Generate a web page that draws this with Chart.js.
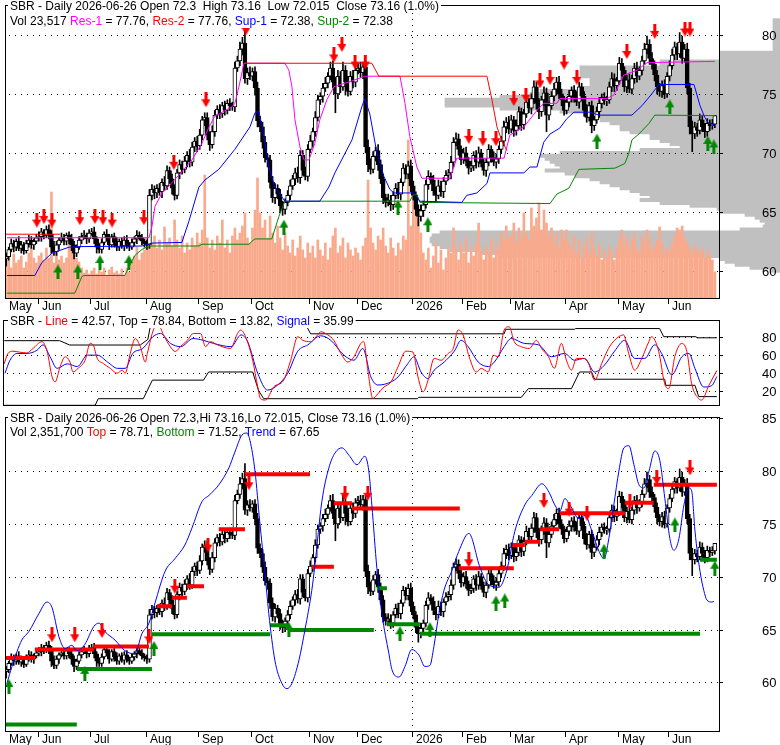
<!DOCTYPE html>
<html>
<head>
<meta charset="utf-8">
<script src="https://cdn.jsdelivr.net/npm/chart.js@4.4.1/dist/chart.umd.min.js"></script>
<style>
html,body{margin:0;padding:0;background:#fff;}
#wrap{position:relative;width:780px;height:745px;overflow:hidden;background:#fff;}
#wrap canvas{position:absolute;left:0;}
</style>
</head>
<body>
<div id="wrap">
<canvas id="cProf" width="780" height="316" style="top:0px"></canvas>
<canvas id="cTop" width="780" height="316" style="top:0px"></canvas>
<canvas id="cMid" width="780" height="96" style="top:312px"></canvas>
<canvas id="cBot" width="780" height="337" style="top:408px"></canvas>
</div>
<script>
// ---------------- DATA ----------------
// trading-day index 0 = 2025-05-13 ... 282 = 2026-06-26
const monthLabels = ['May','Jun','Jul','Aug','Sep','Oct','Nov','Dec','2026','Feb','Mar','Apr','May','Jun'];
const monthStart  = [0,13,34,56,77,98,121,140,162,182,201,223,244,264];
const yearIdx = 162;

const firstOpen = 61.0;
const closes = [
61.2,61.8,62.3,62.0,62.5,61.9,62.2,61.7,62.3,62.6,
62.2,62.5,62.8,62.9,63.3,63.0,63.5,63.1,62.0,61.6,
62.2,62.6,62.8,62.5,63.0,62.7,62.2,61.5,62.0,62.6,
62.9,63.0,62.7,63.2,63.3,62.7,62.0,61.8,62.4,63.1,
62.8,62.2,62.9,62.4,62.0,62.5,62.1,62.6,62.2,62.0,
62.4,62.7,63.0,62.8,62.5,62.3,62.2,66.4,66.9,66.6,
67.0,66.7,67.5,67.2,68.5,67.8,67.0,66.4,68.3,69.0,
68.6,69.3,69.8,69.2,70.5,71.0,70.6,71.5,72.8,73.0,
71.5,70.7,71.8,73.2,73.7,73.3,74.0,73.6,74.2,74.0,
73.9,77.2,77.8,78.8,79.3,76.3,76.8,76.5,76.9,75.5,
72.7,72.2,70.9,69.6,69.4,67.5,66.2,67.0,66.5,65.5,
65.2,65.8,66.4,67.2,67.8,68.3,67.9,69.8,68.5,68.0,
70.3,71.0,71.8,73.0,74.5,74.8,75.5,75.9,76.5,77.2,
76.0,75.0,76.5,75.6,77.0,76.0,75.2,76.5,76.0,77.0,
77.2,76.8,77.3,70.5,69.0,68.6,69.7,70.2,69.0,67.8,
66.2,65.8,66.0,65.6,66.4,67.0,66.5,67.5,68.7,68.2,
68.9,67.2,66.4,65.2,64.6,65.1,65.6,67.3,68.0,67.7,
66.8,66.4,67.2,66.7,67.6,68.1,68.3,69.2,70.9,71.2,
70.3,69.4,70.0,69.3,68.7,68.9,69.8,69.2,70.0,69.1,
68.5,69.2,70.3,69.6,69.2,69.5,70.3,71.0,72.2,72.6,
72.0,72.8,71.9,72.3,73.5,72.4,73.3,74.3,73.8,74.6,
75.6,74.2,73.5,74.5,75.1,73.2,74.0,74.8,75.4,76.0,
75.0,74.5,73.6,74.3,74.8,75.3,74.7,74.3,75.6,74.8,
73.6,73.0,74.0,72.3,72.8,73.5,74.2,74.7,74.4,74.5,
75.6,76.3,75.7,76.1,77.6,77.0,75.6,76.2,75.4,76.3,
77.2,76.5,77.0,77.8,78.8,79.2,78.0,77.5,76.6,75.6,
75.2,75.7,75.0,76.5,77.4,78.3,79.0,78.4,79.4,78.0,
78.8,75.5,72.2,71.6,72.2,71.9,72.8,72.2,71.8,72.5,
72.3,72.44,73.16];
// wick lengths in tenths of a dollar above body top / below body bottom
const wickUp = [
3,2,4,3,2,4,3,2,3,4, 3,2,3,4,3,2,3,4,3,5, 3,2,4,3,2,3,4,3,2,3, 3,4,2,3,3,4,2,3,3,2,
4,3,2,3,4,2,3,3,4,2, 3,2,4,3,3,2,3,5,4,3, 3,4,3,5,4,3,4,3,3,4, 3,4,3,5,4,3,4,5,3,4,
4,3,5,4,3,4,3,4,3,4, 3,5,4,6,5,14,4,5,3,4, 5,4,4,5,3,4,5,4,3,4, 4,3,4,5,3,4,5,4,4,3,
4,5,3,5,4,3,4,5,3,5, 6,4,5,4,7,4,5,4,5,4, 4,5,4,4,6,5,4,3,5,4, 4,3,5,4,3,4,5,3,4,3,
4,5,4,3,4,5,3,4,5,3, 4,3,5,4,3,4,3,5,4,5, 4,3,4,5,3,4,3,4,5,3, 4,3,4,3,5,4,3,4,5,4,
5,4,3,5,4,3,4,5,3,4, 5,4,4,3,5,4,3,4,5,4, 5,4,3,4,5,3,4,5,4,3, 4,5,3,4,3,4,5,3,4,3,
4,5,4,3,5,4,3,4,5,3, 4,5,3,4,5,7,4,5,3,4, 3,4,5,3,4,5,4,3,8,5, 4,5,4,5,4,3,5,4,3,4,
3,4,0];
const wickDn = [
6,3,2,4,3,2,4,3,2,3, 3,4,2,3,4,3,2,4,5,3, 3,4,2,3,3,4,5,5,3,2, 3,2,4,3,2,4,5,3,3,2,
3,4,2,4,3,3,2,4,3,3, 2,3,4,2,3,3,4,3,4,5, 4,3,5,4,3,4,5,4,3,5, 4,3,5,4,3,4,5,3,4,5,
4,5,3,4,3,4,3,4,3,4, 3,4,3,4,5,4,5,3,4,6, 5,4,5,4,6,5,4,5,4,5, 5,4,3,4,3,5,4,5,4,3,
4,3,5,4,3,4,5,3,4,3, 5,16,4,5,3,11,4,3,5,4, 3,4,5,5,6,4,3,4,5,4, 5,4,3,5,4,3,4,5,3,4,
4,5,4,5,8,4,5,3,4,3, 4,5,3,4,5,3,4,5,4,3, 5,4,3,4,5,3,4,5,4,3, 4,5,3,4,3,5,4,3,4,5,
4,3,5,4,3,5,4,3,4,5, 4,5,6,4,5,14,4,3,4,5, 4,5,4,3,4,5,4,3,5,4, 5,4,3,6,4,3,5,4,3,4,
3,4,5,4,3,5,4,5,3,4, 4,5,3,4,3,4,5,4,5,6, 4,5,4,3,4,3,4,5,3,4, 3,5,6,15,4,5,3,4,5,4,
4,3,3];
// volume, thousands of shares
const volumes = [
3600,3420,2700,3960,3150,3420,3780,2700,3240,4050,
4500,3600,3150,3780,4050,3420,4500,3600,9540,3150,
4050,3420,3780,3150,3600,4860,4500,4230,3600,3240,
2700,2250,2520,2160,2430,2700,2160,2520,2340,2700,
1980,2520,2790,2250,2430,2160,2610,2070,2700,2340,
3150,3780,4590,3420,4050,4320,5400,6750,4950,5580,
4500,5220,4320,6390,4950,5400,4680,7020,5220,4500,
5580,4050,4950,4320,5400,4680,5850,4950,6120,11070,
5400,4500,5220,4320,5580,4950,7020,4500,5220,4050,
5580,6300,5220,5850,6480,7650,5400,4950,6300,7920,
10800,7650,6300,7020,5400,7380,5850,4950,6480,5400,
4320,5850,4680,4050,5220,3780,4500,5580,4320,3600,
4950,4050,4680,3600,5220,4320,3780,4950,3420,4500,
5580,6300,4050,4680,5400,3600,4950,4320,3780,4500,
4050,3420,4680,5400,10620,6300,4950,4320,5580,5220,
6300,4680,4050,5400,4500,3780,4950,4320,5580,5220,
14220,6480,9450,8100,7200,5850,4050,3420,4500,2700,
3780,4950,3150,4320,2520,3600,4680,4050,6300,4500,
3420,4950,4050,5400,3150,4500,3780,4950,6750,4320,
3420,4680,4050,5400,3600,4950,4320,5850,5220,6480,
5400,5580,6750,4950,6300,5400,7650,5850,5220,8100,
6480,7200,8550,6120,7920,6750,5580,6300,4950,5850,
4500,6120,5220,6120,4950,4320,5580,4050,5220,3600,
4680,5400,4050,5850,4500,3780,4950,3420,4320,3600,
4680,4050,3420,4500,5400,6120,4950,5580,4320,5220,
5850,4500,4050,5580,4950,6120,5400,4320,4680,5220,
6390,4950,4050,4500,4320,4950,5580,6300,6120,6480,
5400,4950,4500,4050,4680,4320,4050,4500,3600,4320,
3780,3420,2352];

// volume-at-price profile (price bins, relative volume)
const profPrice = [60.00,60.25,60.50,60.75,61.00,61.25,61.50,61.75,62.00,62.25,62.50,62.75,63.00,63.25,63.50,63.75,
64.00,64.25,64.50,64.75,65.00,65.25,65.50,65.75,66.00,66.25,66.50,66.75,67.00,67.25,67.50,67.75,
68.00,68.25,68.50,68.75,69.00,69.25,69.50,69.75,70.00,70.25,70.50,70.75,71.00,71.25,71.50,71.75,
72.00,72.25,72.50,72.75,73.00,73.25,73.50,73.75,74.00,74.25,74.50,74.75,75.00,75.25,75.50,75.75,
76.00,76.25,76.50,76.75,77.00,77.25,77.50,77.75,78.00,78.25,78.50,78.75,79.00,79.25,79.50,79.75,
80.00,80.25,80.50,80.75,81.00,81.25];
const profVol = [10,30,45,55,60,280,300,330,340,348,350,350,348,340,40,17,
15,20,25,35,60,63,90,120,140,130,140,150,160,170,180,190,
205,215,235,220,225,230,235,240,220,140,100,110,120,130,130,150,
160,160,170,180,180,180,220,280,335,335,335,280,250,240,200,190,
190,190,200,200,200,200,120,120,60,60,60,7,7,7,7,7,
7,7,7,7,7,7];

// top panel overlay lines [day index, price]
const res1 = [[0.3,62.8],[56.8,62.8],[58.0,63.75],[59.2,65.45],[62,66.6],[64.8,67.2],[69.9,68.4],[73.9,69.4],[77.9,70.8],[80.7,72.2],[83,73.1],[89.8,73.9],[91,74.2],[92.6,75.6],[94.6,77.6],[110.9,77.6],[112.5,77.0],[113.7,75.6],[114.9,72.8],[116.9,70.5],[118.5,69.4],[120.5,69.4],[122.8,70.8],[124.8,72.8],[127.6,74.5],[130.4,75.6],[137.6,76.1],[142.7,76.5],[156.7,76.5],[158.7,74.2],[160.6,71.4],[163.4,68.8],[165.4,67.85],[176.6,67.85],[179.3,69.55],[198.1,69.55],[200.4,71.5],[206,72.2],[211.2,73.6],[213.9,74.2],[219.1,74.2],[220.3,74.6],[239,74.6],[241.8,74.9],[245.8,76.6],[251,77.0],[255,77.65],[282,77.76]];
const res2 = [[-0.5,63.1],[21.4,63.1],null,[94.6,77.6],[145.5,77.6],[148.3,76.5],[191.3,76.5],[193.3,74.5],[195.3,72.2],[197.3,71.0],[199.2,70.2]];
const sup1 = [[0.3,59.6],[11.4,59.6],[14.2,60.7],[18.2,61.5],[25,62.0],[30.1,62.05],[54,62.1],[58,62.35],[69.9,62.4],[72.7,64.2],[76.7,67.1],[79.1,67.7],[84.6,68.6],[91,70.3],[97,72.2],[99,73.4],[100.6,73.5],[102.5,71.4],[104.5,68.8],[106.9,67.1],[110.9,65.9],[124.8,65.9],[128.4,67.1],[130.8,68.3],[137.6,71.1],[141.5,73.9],[142.7,74.6],[144.7,73.3],[147.5,70.0],[150.3,68.0],[152.7,66.9],[154.3,66.6],[162.2,66.6],[164.6,65.9],[181.3,65.8],[183.3,66.4],[187.3,66.6],[191.3,67.4],[192.5,68.3],[206,68.3],[208.4,68.8],[211.2,68.8],[213.9,70.9],[216.4,71.6],[220.3,72.1],[223.1,72.9],[225.9,73.45],[232.3,73.45],[235.9,73.2],[249,73.2],[253,74.0],[256.9,75.0],[259.7,75.8],[273.7,75.8],[276.1,74.0],[278,73.0],[279.6,72.5],[282,72.38]];
const sup2 = [[0.3,58.1],[27.3,58.1],[30.1,59.5],[30.9,59.6],[47.2,59.6],[48.8,60.3],[51.2,61.3],[54,61.8],[56.8,62.1],[76.7,62.1],[77.9,62.25],[96.6,62.25],[97.8,62.5],[99,62.7],[105.7,62.7],[108.5,64.6],[110.9,65.9],[160.6,65.9],[161.8,66.4],[163.4,66.5],[164.6,65.8],[216.4,65.7],[219.1,66.5],[223.9,67.0],[227.9,68.6],[242.2,68.7],[246.2,69.1],[247.8,70.0],[249,71.1],[251.8,71.6],[255.8,72.5],[258.1,73.2],[282,73.16]];
const topSell = [[12.2,64.3],[15.0,64.6],[18.2,64.3],[29.3,64.5],[35.3,64.6],[38.5,64.5],[42.1,64.3],[54.8,64.5],[66.7,69.2],[79.5,74.5],[95.4,80.6],[130.4,78.3],[133.6,79.2],[138.8,77.7],[142.9,77.7],[184.1,71.4],[189.7,71.2],[194.9,71.2],[202,74.6],[206.8,74.9],[212.4,76.1],[216.4,76.4],[222,77.7],[227.1,76.4],[247,78.6],[258.1,80.3],[270.1,80.5],[272.1,80.5]];
const topBuy = [[20.6,59.9],[28.5,59.9],[37.3,60.7],[48.8,60.7],[110.5,63.7],[155.9,65.4],[167.8,63.9],[235.1,71.0],[264.1,73.9],[279.2,70.8],[281.6,70.5]];

// middle panel oscillator [day index, value]
const oscLine = [[0,50],[1.5,61.5],[3.5,64],[6,63],[9,62],[11.4,67],[15,74.5],[17,64],[19,35.6],[20.2,30],[22.2,47],[24.2,57.8],[26.1,52],[27.3,41],[29.3,45],[32.1,54],[34.1,72.6],[35.3,71],[36.9,56],[39.3,50.4],[42.1,45],[44.8,39.6],[46.8,43],[48,39.6],[50,61.5],[52,78],[54,69],[56,52],[56.8,61.5],[59.2,87.4],[61.2,93],[63.2,82],[65.9,69],[67.9,63.6],[69.9,69],[72.7,76],[75.1,83.6],[77.9,83.6],[79.9,69],[81.9,74.5],[84.6,71],[89.8,67],[92.6,83.6],[93.8,87.4],[95.8,80],[98.6,54],[100.6,24.4],[101.7,11.5],[103.7,10],[106.9,24.4],[110.9,32],[113.7,54],[116.5,80],[118.5,76],[121.6,74.5],[124.4,82],[125.6,85.5],[128.4,82],[130.8,76],[133.6,61.5],[136.4,52],[138.8,57.8],[141.5,72.6],[142.7,74.5],[144.3,43],[146.3,11.7],[148.3,17],[150.7,24.4],[153.5,30],[156.3,47],[159.4,64],[162.2,63],[164.2,35.6],[166.2,19],[168.2,32],[170.6,56],[173.4,54],[176.2,61.5],[178.2,67],[180.1,87.4],[182.1,82],[184.5,57.8],[187.3,41],[189.3,45],[192.1,41],[194.1,59.6],[196.1,57.8],[198.4,87.4],[200.4,91],[202.4,74.5],[205.2,69],[208.4,67],[211.2,76],[213.2,67],[216,57.8],[218.3,45],[221.1,72.6],[223.1,54],[225.1,43],[227.1,56],[229.9,56],[231.9,50.4],[234.3,32],[237.1,50.4],[239.8,67],[242.2,76],[245.8,82],[247.8,61.5],[250.2,43],[253,56],[255.8,74.5],[256.9,80],[259.7,64],[262.1,28],[263.7,22.6],[266.1,57.8],[268.9,72.6],[270.9,63.6],[272.8,28],[275.6,11.5],[276.8,10],[279.6,26],[282.8,42.6]];
const oscSignal = [[0.3,39.6],[2.3,54],[5.1,61.5],[9,61.5],[13,65],[15.4,71],[18.2,57.8],[21,45],[25,50],[29,47],[33,59.6],[37,59.6],[41,52],[45,45],[48,45],[51,61.5],[55,67],[59,80],[62,83.6],[66,72.6],[70,69],[75,78],[79,76],[83,72.6],[90,69],[94,82],[96.6,74.5],[100.6,39.6],[104.5,21],[108.5,26.6],[112.5,39.6],[116.5,64],[120.5,71],[125.6,81],[129.6,76],[134.8,59.6],[138.8,54],[142.3,67],[145.5,35.6],[148.3,26.6],[153.5,30],[156.3,35.6],[160.2,50.4],[162.6,57.8],[165.4,41],[168.2,33.7],[170.6,43],[174.6,52],[178.6,64],[181.3,76],[184.1,69],[188.1,52],[192.1,47],[194.5,52],[198.4,69],[201.2,78],[206.4,72.6],[212,71],[217.2,57.8],[222.3,61.5],[226.3,54],[230.3,56],[234.3,41],[238.2,48.6],[242.2,64],[246.2,76],[250.2,56],[254.2,56],[258.1,71],[260.9,61.5],[264.9,37.8],[268.9,57.8],[271.7,61.5],[274.1,45],[277.6,24.4],[280.8,26],[282.8,36]];
const oscTop = [[0,75.6],[22,75.6],[26,70.8],[54,70.8],[57,77],[58.5,99],[60,104],[118,104],[119.7,93],[121.6,83.2],[198.4,83.2],[199,88.2],[226.3,88.2],[226.8,89],[260.1,89],[261.7,80],[274.5,80],[275,78.8],[282.8,78.8]];
const oscBottom = [[0,4.2],[36.1,4.2],[37.3,11.5],[55.2,11.5],[58.8,32],[79.1,32],[81.1,41],[98.6,41],[101,20],[103,11.5],[164,11.5],[164.5,13],[205.2,13],[208,22.6],[225.1,22.6],[228.3,41],[233.1,41],[234.3,33],[262.1,33],[262.5,26.3],[274.1,26.3],[275.6,13.8],[282.8,13.8]];

// bottom panel [day index, price]
const trend = [[0.3,59.9],[2.3,61.5],[6.2,64.0],[9.0,64.8],[13.0,66.5],[16.2,67.6],[18.2,67.1],[21.0,64.3],[23.4,63.2],[26.1,63.5],[28.1,63.0],[31.3,63.6],[34.9,65.3],[36.9,65.6],[39.3,64.8],[43.3,64.0],[47.2,63.0],[51.2,62.7],[54.0,64.6],[56.8,65.6],[59.2,67.5],[63.2,70.5],[67.1,71.7],[71.1,73.0],[73.9,74.6],[77.9,77.1],[80.7,77.7],[84.6,78.7],[88.6,80.3],[91.0,81.8],[93.8,83.4],[95.8,83.6],[97.0,82.9],[99.0,80.0],[100.9,75.2],[102.9,70.5],[104.5,66.5],[106.9,62.1],[109.7,59.9],[111.7,59.4],[113.7,59.9],[116.5,62.1],[118.9,65.0],[121.6,68.7],[122.8,71.0],[125.6,77.1],[128.4,80.3],[130.8,81.7],[133.6,82.2],[136.4,81.5],[139.6,80.6],[142.7,81.4],[144.3,80.0],[145.5,76.8],[147.5,70.8],[149.5,66.5],[152.3,62.7],[153.5,61.2],[156.3,60.5],[158.7,61.5],[161.4,63.1],[164.2,62.6],[166.6,61.5],[168.6,61.6],[170.2,63.4],[172.2,66.5],[174.2,68.7],[177.4,70.6],[180.1,72.4],[184.1,74.1],[188.5,70.9],[192.1,69.2],[196.1,69.0],[199.2,70.6],[202.4,74.3],[206.4,76.8],[209.2,77.7],[213.2,78.8],[216.0,78.0],[218.3,76.8],[220.3,76.2],[222.3,77.4],[224.3,76.8],[227.9,75.5],[230.3,75.8],[233.1,74.3],[235.9,72.4],[237.9,71.7],[239.8,73.6],[241.8,76.8],[243.8,80.0],[245.8,82.2],[247.8,82.4],[249.8,80.6],[251.8,78.7],[253.8,78.4],[255.8,80.0],[258.1,81.9],[260.1,81.0],[262.1,77.4],[264.1,73.6],[265.7,72.5],[267.7,73.6],[269.7,76.8],[271.7,78.4],[272.8,78.1],[274.1,74.3],[276.1,70.5],[277.6,68.7],[278.8,67.8],[280.8,67.6],[281.6,67.65]];
const topLevels = [[-0.5,62.3],[11.4,62.3],null,[11.4,63.1],[34.9,63.1],null,[34.9,63.4],[56.8,63.4],null,[60,67.2],[66,67.2],null,[66,68.0],[71.9,68.0],null,[71.9,69.1],[78.7,69.1],null,[84.6,74.5],[95,74.5],null,[95,79.7],[120.9,79.7],null,[121.6,70.95],[130.4,70.95],null,[130.4,76.95],[137.6,76.95],null,[137.6,76.45],[180.5,76.45],null,[180.1,70.8],[202,70.8],null,[201.2,73.0],[206.4,73.0],null,[206.4,73.3],[212.4,73.3],null,[212.4,74.5],[220,74.5],null,[220.3,76.0],[246.2,76.0],null,[246.2,77.0],[257.7,77.0],null,[257.7,78.7],[282.8,78.7]];
const bottomLevels = [[-0.5,56.0],[28.1,56.0],null,[28.1,61.25],[58,61.25],null,[58,64.55],[105,64.55],null,[105,65.4],[112.5,65.4],null,[112.5,64.95],[146.3,64.95],null,[147.5,68.9],[151.5,68.9],null,[151.5,65.5],[164.6,65.5],null,[164.6,64.6],[276.1,64.6],null,[276.1,71.6],[282.8,71.6]];
const botSell = [[18.2,64.5],[27.3,64.5],[38.1,64.9],[56.8,64.3],[67.1,69.1],[80.3,73.0],[96.6,78.9],[134.8,77.9],[143.9,77.9],[184.1,71.6],[214,77.2],[224,76.4],[231.1,76.0],[248.2,77.1],[258.9,79.4],[272.1,80.3]];
const botBuy = [[1.1,59.6],[31.3,60.85],[58.8,63.2],[112.5,65.0],[156.7,64.6],[168.6,65.0],[194.9,67.5],[198.4,67.7],[237.9,72.4],[266.1,74.9],[282,70.8]];

const topTicks = [80,75,70,65,60];
const midTicks = [80,60,40,20];
const botTicks = [85,80,75,70,65,60];

// ---------------- RENDER ----------------
const FONT = '"Liberation Sans", Arial, Helvetica, sans-serif';
Chart.defaults.font.family = FONT;
const X_MIN = -0.48, X_MAX = 283.65;
const RED = '#ff0000', GREEN = '#008800', BLUE = '#0000ff', MAG = '#ff00ff';

const opens = closes.map((c,i)=> i===0 ? firstOpen : closes[i-1]);
const highs = closes.map((c,i)=> Math.max(opens[i],c) + wickUp[i]/10);
const lows  = closes.map((c,i)=> Math.min(opens[i],c) - wickDn[i]/10);

function pts(arr){
  const out=[]; let lx=0;
  arr.forEach(p=>{ if(p===null){out.push({x:lx,y:null});} else {out.push({x:p[0],y:p[1]}); lx=p[0];} });
  return out;
}
function arrow(color, up){
  const c=document.createElement('canvas'); c.width=9; c.height=15;
  const g=c.getContext('2d'); g.fillStyle=color;
  if(up){ g.fillRect(3,7,3,8); g.beginPath(); g.moveTo(0,8); g.lineTo(9,8); g.lineTo(4.5,0); g.closePath(); g.fill(); }
  else { g.fillRect(3,0,3,8); g.beginPath(); g.moveTo(0,7); g.lineTo(9,7); g.lineTo(4.5,15); g.closePath(); g.fill(); }
  return c;
}
const ARROW_DN = arrow(RED,false), ARROW_UP = arrow(GREEN,true);

function candleSets(order){
  return [
    {type:'bar', data: closes.map((c,i)=>({x:i,y:[opens[i],c]})),
     backgroundColor: closes.map((c,i)=> c>=opens[i] ? '#ffffff' : '#000000'),
     borderColor:'#000000', borderWidth:1, borderSkipped:false, barThickness:4, grouped:false, order:order},
    {type:'bar', data: closes.map((c,i)=>({x:i,y:[lows[i],highs[i]]})),
     backgroundColor:'#000000', borderWidth:0, barThickness:1, grouped:false, order:order+1}
  ];
}
function lineSet(arr, color, width, order, smooth){
  return {type:'line', data: pts(arr), borderColor:color, borderWidth:width, pointRadius:0,
          tension: smooth?0.35:0, cubicInterpolationMode: smooth?'monotone':'default', spanGaps:false, order:order};
}
function arrowSet(arr, img){
  return {type:'line', data: arr.map(p=>({x:p[0],y:p[1]})), showLine:false, pointStyle: img, pointRadius:4, order:0};
}

function drawRich(ctx, x, y, segs, bg){
  ctx.font = '12px ' + FONT;
  ctx.textAlign='left'; ctx.textBaseline='alphabetic';
  let w=0; segs.forEach(s=> w += ctx.measureText(s[0]).width);
  if(bg){ ctx.fillStyle='#ffffff'; ctx.fillRect(x-2, y-11, w+4, 14); }
  let cx=x; segs.forEach(s=>{ ctx.fillStyle=s[1]; ctx.fillText(s[0], cx, y); cx += ctx.measureText(s[0]).width; });
}

function deco(cfg){
  return {
    id:'deco',
    beforeDatasetsDraw(chart){
      const ctx=chart.ctx, a=chart.chartArea, ys=chart.scales.y, xs=chart.scales.x;
      ctx.save(); ctx.strokeStyle='#000'; ctx.lineWidth=1; ctx.setLineDash([1,5]);
      cfg.ticks.forEach(v=>{ const py=Math.round(ys.getPixelForValue(v))+0.5;
        ctx.beginPath(); ctx.moveTo(a.left+4,py); ctx.lineTo(a.right,py); ctx.stroke(); });
      if(cfg.yearLine){ const px=Math.round(xs.getPixelForValue(yearIdx-0.5))+0.5;
        ctx.beginPath(); ctx.moveTo(px,a.top+2); ctx.lineTo(px,a.bottom); ctx.stroke(); }
      ctx.restore();
    },
    afterDraw(chart){
      const ctx=chart.ctx, a=chart.chartArea, ys=chart.scales.y, xs=chart.scales.x;
      ctx.save();
      ctx.strokeStyle='#000'; ctx.lineWidth=1; ctx.setLineDash([]);
      ctx.strokeRect(a.left+0.5, a.top+0.5, a.right-a.left, a.bottom-a.top);
      ctx.font='13px '+FONT; ctx.fillStyle='#000'; ctx.textAlign='left'; ctx.textBaseline='middle';
      cfg.ticks.forEach(v=>{ const py=Math.round(ys.getPixelForValue(v))+0.5;
        ctx.beginPath(); ctx.moveTo(a.right,py); ctx.lineTo(a.right+4,py); ctx.stroke();
        ctx.fillText(String(v), 762, py+1); });
      if(cfg.months){
        ctx.font='12px '+FONT; ctx.textBaseline='alphabetic';
        monthLabels.forEach((m,k)=>{
          const px=Math.round(xs.getPixelForValue(monthStart[k]-0.5))+0.5;
          if(k>0){ ctx.beginPath(); ctx.moveTo(px,a.bottom); ctx.lineTo(px,a.bottom+6); ctx.stroke(); }
          ctx.fillText(m, k>0 ? px+3.5 : 9, a.bottom+12);
        });
      }
      cfg.titles.forEach(t=> drawRich(ctx, t.x, t.y, t.segs, t.bg));
      ctx.restore();
    }
  };
}

const baseOpts = (pad, yMin, yMax, extraScales) => Object.assign({
  responsive:false, maintainAspectRatio:false, animation:false, devicePixelRatio:1, events:[],
  layout:{padding:pad},
  plugins:{legend:{display:false}, tooltip:{enabled:false}, title:{display:false}},
  scales: Object.assign({
    x:{type:'linear', min:X_MIN, max:X_MAX, display:false, offset:false, grid:{offset:false}},
    y:{type:'linear', min:yMin, max:yMax, display:false}
  }, extraScales||{})
});

// volume-at-price profile (behind the top panel)
new Chart(document.getElementById('cProf'), {
  type:'bar',
  data:{datasets:[{data: profPrice.map((p,k)=>({x:profVol[k], y:p})), backgroundColor:'rgb(192,192,192)',
        borderWidth:0, barThickness:3.2, grouped:false}]},
  options:{
    indexAxis:'y', responsive:false, maintainAspectRatio:false, animation:false, devicePixelRatio:1, events:[],
    layout:{padding:{left:0,right:0,top:5,bottom:18}},
    plugins:{legend:{display:false}, tooltip:{enabled:false}},
    scales:{
      x:{type:'linear', min:0, max:780, reverse:true, display:false, offset:false},
      y:{type:'linear', min:57.69, max:82.54, display:false, offset:false}
    }
  }
});

// top panel
new Chart(document.getElementById('cTop'), {
  type:'bar',
  data:{datasets:[
    arrowSet(topSell, ARROW_DN), arrowSet(topBuy, ARROW_UP),
    lineSet(res2, RED, 1, 1), lineSet(res1, MAG, 1, 2), lineSet(sup1, BLUE, 1, 2), lineSet(sup2, GREEN, 1, 2),
    ...candleSets(4),
    {type:'bar', yAxisID:'yv', data: volumes.map((v,i)=>({x:i,y:v})), backgroundColor:'rgb(250,170,140)',
     borderWidth:0, barThickness:2, grouped:false, order:8}
  ]},
  options: baseOpts({left:3,right:61,top:5,bottom:18}, 57.69, 82.54,
    {yv:{type:'linear', min:0, max:26370, display:false}}),
  plugins:[deco({ticks:topTicks, months:true, yearLine:true, titles:[
    {x:10, y:10, bg:true, segs:[['SBR - Daily 2026-06-26 Open 72.3  High 73.16  Low 72.015  Close 73.16 (1.0%)','#000']]},
    {x:10, y:25, bg:true, segs:[['Vol 23,517 ','#000'],['Res-1',MAG],[' = 77.76, ','#000'],['Res-2',RED],[' = 77.76, ','#000'],
      ['Sup-1',BLUE],[' = 72.38, ','#000'],['Sup-2',GREEN],[' = 72.38','#000']]}
  ]})]
});

// middle panel
new Chart(document.getElementById('cMid'), {
  type:'line',
  data:{datasets:[
    lineSet(oscLine, RED, 1, 1, true), lineSet(oscSignal, BLUE, 1, 2, true),
    lineSet(oscTop, '#000', 1, 3), lineSet(oscBottom, '#000', 1, 3)
  ]},
  options: baseOpts({left:3,right:61,top:8,bottom:3}, 4.53, 98.45),
  plugins:[deco({ticks:midTicks, months:false, yearLine:false, titles:[
    {x:10, y:13, bg:true, segs:[['SBR - ','#000'],['Line',RED],[' = 42.57, Top = 78.84, Bottom = 13.82, ','#000'],['Signal',BLUE],[' = 35.99','#000']]}
  ]})]
});

// bottom panel
new Chart(document.getElementById('cBot'), {
  type:'bar',
  data:{datasets:[
    arrowSet(botSell, ARROW_DN), arrowSet(botBuy, ARROW_UP),
    lineSet(trend, BLUE, 1, 1, true),
    lineSet(topLevels, RED, 4, 1), lineSet(bottomLevels, GREEN, 4, 1),
    ...candleSets(4)
  ]},
  options: baseOpts({left:3,right:61,top:9,bottom:14}, 55.39, 85.12),
  plugins:[deco({ticks:botTicks, months:true, yearLine:true, titles:[
    {x:10, y:14, bg:true, segs:[['SBR - Daily 2026-06-26 Open 72.3,Hi 73.16,Lo 72.015, Close 73.16 (1.0%)','#000']]},
    {x:10, y:28, bg:false, segs:[['Vol 2,351,700 ','#000'],['Top',RED],[' = 78.71, ','#000'],['Bottom',GREEN],[' = 71.52, ','#000'],['Trend',BLUE],[' = 67.65','#000']]}
  ]})]
});
</script>
</body>
</html>
